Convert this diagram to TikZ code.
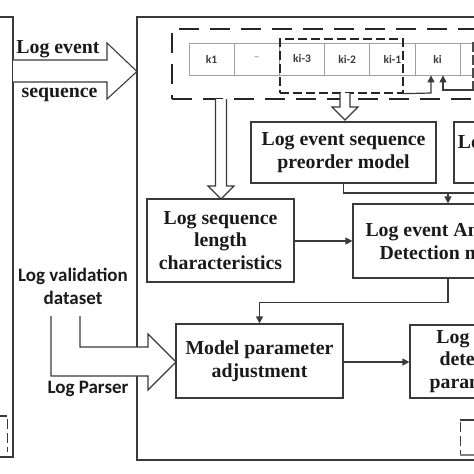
\documentclass[tikz,border=0pt]{standalone}
\usepackage{fontspec}
\setmainfont{Liberation Serif}
\newfontfamily\calfont{Carlito}
\usetikzlibrary{arrows.meta,calc}
\definecolor{ln}{HTML}{3A3A3A}
\definecolor{tx}{HTML}{1A1A1A}
\definecolor{cellc}{HTML}{A0A0A0}
\begin{document}
\begin{tikzpicture}[x=1pt,y=-1pt,
  frame/.style={draw=ln,line width=1.2pt},
  box/.style={draw=ln,line width=1.2pt,fill=white,inner sep=0pt,align=center,
    text=tx,font=\bfseries\fontsize{19.8}{22.5}\selectfont},
  serlbl/.style={inner sep=0pt,align=center,text=tx,font=\bfseries\fontsize{19.8}{22.5}\selectfont},
  sanslbl/.style={inner sep=0pt,align=center,text=tx,font=\calfont\bfseries\fontsize{19}{23}\selectfont},
  cell/.style={draw=cellc,line width=0.8pt,minimum width=45.2pt,minimum height=32pt,inner sep=0pt,
    text=ln,font=\calfont\bfseries\fontsize{11.5}{13}\selectfont},
  bigdash/.style={draw=black!85,line width=2.3pt,dash pattern=on 20pt off 11pt},
  smalldash/.style={draw=black!85,line width=1.3pt,dash pattern=on 9pt off 4pt},
  conn/.style={draw=ln,line width=1.2pt},
  arr/.style={conn,-{Triangle[length=7pt,width=7pt]}},
  hollow/.style={draw=ln,line width=1.1pt,fill=white}
]
\useasboundingbox (0,0) rectangle (474,474);
\clip (0,0) rectangle (474,474);

% panels
\draw[frame] (-20,17) rectangle (13,457);
\draw[frame] (137,17) rectangle (620,460);

% legend fragments
\draw[conn] (-2,416) -- (7,416);
\draw[draw=ln,line width=1pt,dash pattern=on 10pt off 4pt] (7,419) -- (7,452);
\draw[conn] (460,420) -- (480,420);
\draw[draw=ln,line width=1pt,dash pattern=on 10pt off 4pt] (460,422) -- (460,455);
\draw[draw=gray,line width=1.5pt] (460,455) -- (480,455);

% sequence strip
\node[bigdash,minimum width=428pt,minimum height=70pt,inner sep=0pt] (strip) at (386,64) {};
\node[cell] (c1) at (211.6,59) {k1};
\node[cell,text=cellc] (c2) at (256.8,59) {–};
\node[cell] (c3) at (302,59) {ki-3};
\node[cell] (c4) at (347.2,59) {ki-2};
\node[cell] (c5) at (392.4,59) {ki-1};
\node[cell] (c6) at (437.6,59) {ki};
\node[cell] (c7) at (482.8,59) {};
\node[smalldash,minimum width=123pt,minimum height=54pt,inner sep=0pt] (win) at (341.5,66) {};
\draw[draw=gray!60!black,line width=3pt,dash pattern=on 10pt off 3pt] (473,42) -- (473,92);

% arrows into ki
\draw[arr] (win.south east) -- (431,93) -- (c6.south -| 431,0);
\coordinate (rin) at (490,90);
\draw[arr] (rin) -- (443,90) -- (c6.south -| 443,0);

% boxes
\node[box,minimum width=185pt,minimum height=61pt] (pre) at (343.5,152.5) {Log event sequence\\preorder model};
\node[box,minimum width=185pt,minimum height=61pt] (rb) at (546.5,152.5) {Log parameter value\\model};
\node[box,minimum width=147pt,minimum height=83pt] (len) at (220.5,240.5) {Log sequence\\length\\characteristics};
\node[box,minimum width=190pt,minimum height=74pt] (anom) at (448,241) {Log event Anomaly\\Detection model};
\node[box,minimum width=167pt,minimum height=74pt] (model) at (259.5,361) {Model parameter\\adjustment};
\node[box,minimum width=136pt,minimum height=73pt] (det) at (478,361.5) {Log event\\detection\\parameters};

% hollow arrows from strip
\draw[hollow] (215.5,99) -- (215.5,186) -- (208,186) -- (221,199) -- (234,186) -- (226.5,186) -- (226.5,99);
\draw[hollow] (340,93) -- (340,107) -- (332,107) -- (345,120) -- (358,107) -- (350,107) -- (350,93);

% connectors
\coordinate (j1) at (343.5,193);
\draw[conn] (pre.south) -- (j1) -- (490,193);
\draw[conn] (rb.south) -- (rb.south |- j1);
\draw[arr] (anom.north |- j1) -- (anom.north);
\draw[arr] (len.east |- 0,241) -- (anom.west |- 0,241);
\draw[arr] (anom.south) -- ++(0,24) -| (model.north);
\draw[arr] (model.east |- 0,362) -- (det.west |- 0,362);

% big input arrows
\draw[hollow] (13,60) -- (107,60) -- (107,43) -- (137,71.5) -- (107,99) -- (107,82) -- (13,82);
\draw[hollow] (80,316) -- (80,347) -- (148,347) -- (148,334) -- (176,362) -- (148,390) -- (148,376) -- (51,376) -- (51,316);

% labels
\node[serlbl] (lev) at (58,49) {Log event};
\node[serlbl] (seq) at (59.5,95) {sequence};
\node[sanslbl] (val) at (73,286.5) {Log validation\\dataset};
\node[sanslbl] (par) at (88,389) {Log Parser};
\end{tikzpicture}
\end{document}
